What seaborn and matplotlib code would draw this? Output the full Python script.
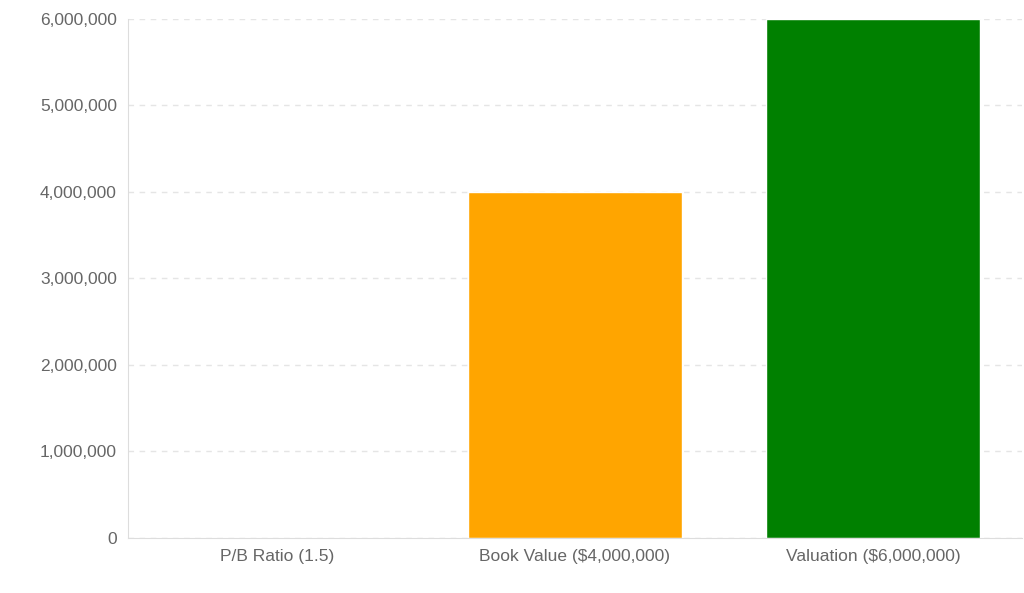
import matplotlib
matplotlib.use("Agg")
import matplotlib.pyplot as plt
import seaborn as sns
from matplotlib.ticker import FuncFormatter

categories = ["P/B Ratio (1.5)", "Book Value ($4,000,000)", "Valuation ($6,000,000)"]
values = [1.5, 4000000, 6000000]
colors = ["#36a2eb", "#FFA500", "#008000"]

sns.set_style("white")
plt.rcParams['font.family'] = ['Liberation Sans', 'DejaVu Sans']

fig, ax = plt.subplots(figsize=(10.24, 5.93), dpi=100)
fig.subplots_adjust(left=0.125, right=0.998, top=0.968, bottom=0.093)

sns.barplot(x=categories, y=values, hue=categories, palette=colors,
            legend=False, width=0.72, ax=ax, saturation=1)

ax.set_ylim(0, 6000000)
ax.set_yticks(range(0, 6000001, 1000000))
ax.yaxis.set_major_formatter(FuncFormatter(lambda v, p: f"{int(v):,}"))
ax.grid(axis="y", color="#e5e5e5", linestyle=(0, (4, 4)), linewidth=1)
ax.set_axisbelow(True)
for s in ["top", "right"]:
    ax.spines[s].set_visible(False)
for s in ["left", "bottom"]:
    ax.spines[s].set_color("#dddddd")
ax.tick_params(axis="both", colors="#666666", labelsize=12.5, length=0, pad=8)
ax.set_xlabel("")
ax.set_ylabel("")

fig.savefig("out.png", dpi=100)
